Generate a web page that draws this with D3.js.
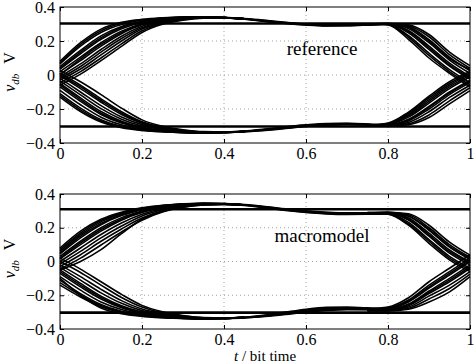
<!DOCTYPE html>
<head>
    <meta charset="utf-8" />
    <script src="https://d3js.org/d3.v7.min.js"></script>
    <style>
        body { margin: 0; background: #fff; }
        text { font-family: "Liberation Serif", "DejaVu Serif", serif; fill: #000; }
        .grid line { stroke: #8a8a8a; stroke-width: 0.8; stroke-dasharray: 1,3; }
        .trace { fill: none; stroke: #000; stroke-width: 1.6; }
        .axis path { display: none; }
        .axis line { stroke: #000; stroke-width: 1; }
        .axis text { font-size: 16px; }
    </style>
    <title>eye diagrams</title>
</head>

<body>
<script>
// time grids (bit time) for the different pieces of the traces
var tHead = [0, 0.05, 0.1, 0.15, 0.2, 0.25, 0.3, 0.35, 0.4, 0.45];
var tBody = [0.4, 0.45, 0.5, 0.55, 0.6, 0.65, 0.7, 0.75, 0.8];
var tTail = [0.75, 0.8, 0.85, 0.9, 0.95, 1.0];
var xTicks = [0, 0.2, 0.4, 0.6, 0.8, 1];
var yTicks = [-0.4, -0.2, 0, 0.2, 0.4];

// ---- reference ----
var refHighLevels = [0.305, 0.301];
var refLowLevels = [-0.305, -0.301];
var refRiseHeads = [
    [0.08, 0.19, 0.27, 0.31, 0.327, 0.336, 0.341, 0.342, 0.338, 0.33],
    [0.065, 0.17, 0.25, 0.297, 0.322, 0.334, 0.34, 0.342, 0.338, 0.33],
    [0.05, 0.145, 0.23, 0.285, 0.316, 0.331, 0.339, 0.341, 0.338, 0.33],
    [0.035, 0.125, 0.21, 0.272, 0.309, 0.328, 0.337, 0.341, 0.338, 0.33],
    [0.02, 0.105, 0.19, 0.258, 0.302, 0.325, 0.336, 0.34, 0.338, 0.33],
    [0.005, 0.085, 0.17, 0.243, 0.295, 0.321, 0.334, 0.34, 0.337, 0.33],
    [-0.01, 0.065, 0.15, 0.228, 0.287, 0.317, 0.332, 0.339, 0.337, 0.33],
    [-0.02, 0.05, 0.135, 0.215, 0.278, 0.313, 0.33, 0.338, 0.337, 0.33],
    [-0.03, 0.035, 0.118, 0.2, 0.27, 0.308, 0.328, 0.337, 0.336, 0.33],
    [-0.045, 0.02, 0.1, 0.183, 0.26, 0.303, 0.325, 0.336, 0.336, 0.33],
    [-0.06, 0.005, 0.085, 0.168, 0.25, 0.298, 0.322, 0.334, 0.335, 0.33],
    [0.0, 0.095, 0.18, 0.25, 0.298, 0.323, 0.335, 0.34, 0.337, 0.33],
    [0.04, 0.135, 0.22, 0.28, 0.313, 0.33, 0.338, 0.341, 0.338, 0.33],
    [0.07, 0.18, 0.26, 0.304, 0.325, 0.335, 0.341, 0.343, 0.339, 0.331]
];
var refFallHeads = [
    [-0.13, -0.215, -0.277, -0.31, -0.326, -0.334, -0.339, -0.341, -0.338, -0.332],
    [-0.11, -0.195, -0.263, -0.302, -0.322, -0.332, -0.338, -0.341, -0.338, -0.332],
    [-0.09, -0.175, -0.248, -0.293, -0.318, -0.33, -0.337, -0.34, -0.338, -0.332],
    [-0.07, -0.155, -0.232, -0.283, -0.313, -0.327, -0.335, -0.34, -0.338, -0.332],
    [-0.05, -0.135, -0.215, -0.272, -0.307, -0.324, -0.334, -0.339, -0.337, -0.332],
    [-0.035, -0.117, -0.198, -0.26, -0.3, -0.32, -0.332, -0.338, -0.337, -0.332],
    [-0.02, -0.1, -0.18, -0.247, -0.292, -0.316, -0.33, -0.337, -0.337, -0.332],
    [-0.005, -0.08, -0.16, -0.232, -0.284, -0.312, -0.328, -0.336, -0.336, -0.332],
    [0.01, -0.06, -0.14, -0.216, -0.275, -0.307, -0.325, -0.335, -0.336, -0.332],
    [0.025, -0.04, -0.115, -0.195, -0.264, -0.302, -0.322, -0.333, -0.335, -0.331],
    [-0.06, -0.145, -0.225, -0.278, -0.31, -0.326, -0.335, -0.34, -0.338, -0.332],
    [0.0, -0.07, -0.15, -0.224, -0.28, -0.31, -0.327, -0.336, -0.336, -0.332],
    [-0.12, -0.205, -0.27, -0.306, -0.324, -0.333, -0.339, -0.342, -0.339, -0.333]
];
var refHighBodies = [
    [0.338, 0.33, 0.318, 0.306, 0.297, 0.292, 0.292, 0.295, 0.30],
    [0.338, 0.332, 0.322, 0.31, 0.30, 0.295, 0.295, 0.297, 0.301],
    [0.336, 0.328, 0.315, 0.303, 0.294, 0.289, 0.29, 0.294, 0.299],
    [0.337, 0.331, 0.32, 0.308, 0.299, 0.294, 0.293, 0.296, 0.30],
    [0.336, 0.329, 0.316, 0.304, 0.295, 0.29, 0.291, 0.295, 0.30]
];
var refLowBodies = [
    [-0.338, -0.332, -0.322, -0.31, -0.298, -0.29, -0.288, -0.291, -0.297],
    [-0.338, -0.334, -0.326, -0.315, -0.303, -0.295, -0.292, -0.294, -0.298],
    [-0.336, -0.33, -0.318, -0.305, -0.293, -0.285, -0.284, -0.288, -0.295],
    [-0.337, -0.333, -0.324, -0.312, -0.3, -0.292, -0.29, -0.292, -0.297],
    [-0.336, -0.331, -0.32, -0.307, -0.295, -0.287, -0.286, -0.29, -0.296]
];
var refFallTails = [
    [0.30, 0.295, 0.21, 0.10, 0.01, -0.07],
    [0.30, 0.298, 0.232, 0.128, 0.032, -0.045],
    [0.30, 0.30, 0.248, 0.15, 0.052, -0.025],
    [0.30, 0.30, 0.262, 0.17, 0.07, -0.008],
    [0.30, 0.301, 0.274, 0.19, 0.088, 0.01],
    [0.30, 0.302, 0.284, 0.208, 0.105, 0.025],
    [0.30, 0.302, 0.29, 0.225, 0.12, 0.04],
    [0.30, 0.302, 0.295, 0.238, 0.135, 0.055],
    [0.30, 0.30, 0.28, 0.2, 0.097, 0.032],
    [0.30, 0.299, 0.255, 0.16, 0.06, -0.015],
    [0.30, 0.297, 0.222, 0.115, 0.02, -0.058]
];
var refRiseTails = [
    [-0.295, -0.283, -0.218, -0.125, -0.04, 0.02],
    [-0.296, -0.288, -0.233, -0.145, -0.06, 0.005],
    [-0.297, -0.291, -0.248, -0.165, -0.08, -0.012],
    [-0.298, -0.294, -0.26, -0.185, -0.1, -0.03],
    [-0.299, -0.296, -0.27, -0.2, -0.115, -0.045],
    [-0.3, -0.298, -0.279, -0.216, -0.132, -0.06],
    [-0.3, -0.299, -0.287, -0.235, -0.152, -0.075],
    [-0.3, -0.3, -0.292, -0.25, -0.17, -0.092],
    [-0.298, -0.295, -0.265, -0.19, -0.106, -0.036],
    [-0.296, -0.29, -0.24, -0.155, -0.07, -0.002],
    [-0.295, -0.285, -0.225, -0.135, -0.05, 0.012]
];

// ---- macromodel ----
var macHighLevels = [0.313, 0.307];
var macLowLevels = [-0.306, -0.300];
var macRiseHeads = [
    [0.08, 0.18, 0.25, 0.292, 0.318, 0.333, 0.342, 0.345, 0.343, 0.335],
    [0.06, 0.16, 0.235, 0.283, 0.313, 0.33, 0.34, 0.344, 0.342, 0.335],
    [0.045, 0.14, 0.218, 0.272, 0.306, 0.326, 0.338, 0.343, 0.342, 0.335],
    [0.03, 0.12, 0.2, 0.26, 0.298, 0.322, 0.336, 0.342, 0.341, 0.335],
    [0.015, 0.1, 0.18, 0.245, 0.29, 0.318, 0.333, 0.341, 0.341, 0.335],
    [0.0, 0.08, 0.16, 0.228, 0.28, 0.313, 0.331, 0.34, 0.34, 0.335],
    [-0.015, 0.06, 0.14, 0.21, 0.27, 0.307, 0.328, 0.339, 0.34, 0.334],
    [-0.03, 0.04, 0.12, 0.193, 0.258, 0.3, 0.325, 0.337, 0.339, 0.334],
    [-0.045, 0.02, 0.098, 0.175, 0.245, 0.293, 0.321, 0.335, 0.338, 0.334],
    [-0.05, 0.0, 0.07, 0.165, 0.25, 0.297, 0.322, 0.335, 0.338, 0.334],
    [0.07, 0.17, 0.243, 0.288, 0.316, 0.332, 0.341, 0.345, 0.343, 0.335],
    [0.02, 0.11, 0.19, 0.252, 0.294, 0.32, 0.335, 0.342, 0.341, 0.335],
    [0.05, 0.15, 0.226, 0.277, 0.31, 0.328, 0.339, 0.344, 0.342, 0.335]
];
var macFallHeads = [
    [-0.14, -0.21, -0.268, -0.303, -0.322, -0.332, -0.337, -0.34, -0.338, -0.332],
    [-0.11, -0.19, -0.255, -0.295, -0.318, -0.33, -0.336, -0.339, -0.338, -0.332],
    [-0.09, -0.17, -0.24, -0.285, -0.312, -0.327, -0.335, -0.339, -0.338, -0.332],
    [-0.07, -0.15, -0.222, -0.274, -0.306, -0.324, -0.333, -0.338, -0.337, -0.332],
    [-0.05, -0.13, -0.205, -0.262, -0.299, -0.32, -0.331, -0.337, -0.337, -0.332],
    [-0.035, -0.11, -0.186, -0.248, -0.291, -0.315, -0.329, -0.336, -0.336, -0.331],
    [-0.02, -0.09, -0.165, -0.232, -0.282, -0.31, -0.326, -0.335, -0.336, -0.331],
    [0.0, -0.065, -0.14, -0.213, -0.27, -0.304, -0.323, -0.333, -0.335, -0.331],
    [0.02, -0.045, -0.12, -0.195, -0.26, -0.298, -0.32, -0.332, -0.334, -0.33],
    [-0.1, -0.2, -0.275, -0.31, -0.325, -0.333, -0.338, -0.34, -0.338, -0.332],
    [-0.06, -0.14, -0.213, -0.268, -0.302, -0.322, -0.332, -0.337, -0.337, -0.332],
    [-0.125, -0.2, -0.262, -0.3, -0.32, -0.331, -0.337, -0.34, -0.338, -0.332]
];
var macHighBodies = [
    [0.342, 0.335, 0.322, 0.307, 0.295, 0.287, 0.284, 0.284, 0.287],
    [0.343, 0.337, 0.326, 0.312, 0.30, 0.292, 0.288, 0.288, 0.29],
    [0.34, 0.332, 0.318, 0.302, 0.29, 0.282, 0.279, 0.28, 0.284],
    [0.342, 0.336, 0.324, 0.31, 0.298, 0.29, 0.286, 0.286, 0.289],
    [0.341, 0.333, 0.32, 0.305, 0.292, 0.284, 0.281, 0.282, 0.286]
];
var macLowBodies = [
    [-0.337, -0.332, -0.322, -0.308, -0.294, -0.284, -0.28, -0.282, -0.288],
    [-0.337, -0.334, -0.326, -0.314, -0.30, -0.29, -0.285, -0.286, -0.291],
    [-0.336, -0.33, -0.318, -0.30, -0.283, -0.272, -0.27, -0.275, -0.283],
    [-0.337, -0.333, -0.324, -0.311, -0.297, -0.287, -0.283, -0.284, -0.289],
    [-0.336, -0.331, -0.32, -0.304, -0.288, -0.278, -0.275, -0.279, -0.286]
];
var macFallTails = [
    [0.285, 0.28, 0.215, 0.108, 0.01, -0.06],
    [0.285, 0.283, 0.232, 0.13, 0.03, -0.04],
    [0.286, 0.285, 0.245, 0.15, 0.05, -0.02],
    [0.287, 0.287, 0.258, 0.168, 0.068, -0.003],
    [0.288, 0.288, 0.268, 0.185, 0.085, 0.012],
    [0.288, 0.29, 0.277, 0.2, 0.10, 0.025],
    [0.29, 0.292, 0.283, 0.215, 0.115, 0.038],
    [0.29, 0.292, 0.27, 0.19, 0.09, 0.02],
    [0.287, 0.286, 0.25, 0.158, 0.058, -0.01],
    [0.286, 0.282, 0.222, 0.12, 0.02, -0.05]
];
var macRiseTails = [
    [-0.28, -0.27, -0.215, -0.12, -0.04, 0.04],
    [-0.282, -0.275, -0.228, -0.14, -0.06, 0.02],
    [-0.284, -0.279, -0.24, -0.158, -0.08, 0.0],
    [-0.286, -0.283, -0.252, -0.175, -0.1, -0.02],
    [-0.288, -0.286, -0.262, -0.19, -0.12, -0.04],
    [-0.29, -0.289, -0.27, -0.205, -0.14, -0.06],
    [-0.292, -0.291, -0.277, -0.222, -0.16, -0.075],
    [-0.293, -0.293, -0.283, -0.24, -0.18, -0.09],
    [-0.287, -0.284, -0.256, -0.182, -0.11, -0.03],
    [-0.283, -0.277, -0.234, -0.15, -0.07, 0.01]
];

var width = 474, height = 364;
var svg = d3.select("body").append("svg")
    .attr("width", width).attr("height", height);
svg.append("rect").attr("width", width).attr("height", height).attr("fill", "#fff");

var x = d3.scaleLinear().domain([0, 1]).range([60, 470]);

function drawPanel(top, bottom, label, labelY, levelsHi, levelsLo, pieces) {
    var y = d3.scaleLinear().domain([-0.4, 0.4]).range([bottom, top]);
    var g = svg.append("g");

    // dotted grid
    var grid = g.append("g").attr("class", "grid");
    grid.selectAll(".gx").data(xTicks.slice(1, -1)).join("line")
        .attr("x1", d => x(d)).attr("x2", d => x(d))
        .attr("y1", top).attr("y2", bottom);
    grid.selectAll(".gy").data(yTicks.slice(1, -1)).join("line")
        .attr("x1", x(0)).attr("x2", x(1))
        .attr("y1", d => y(d)).attr("y2", d => y(d));

    g.append("text").attr("x", 322).attr("y", labelY)
        .attr("text-anchor", "middle").style("font-size", "19px")
        .text(label);

    var line = d3.line().curve(d3.curveMonotoneX)
        .x(d => x(d[0])).y(d => y(d[1]));
    var tr = g.append("g");
    pieces.forEach(function (p) {
        tr.selectAll(null).data(p.rows).join("path")
            .attr("class", "trace")
            .attr("d", r => line(r.map((v, i) => [p.t[i], v])));
    });
    tr.selectAll(null).data(levelsHi.concat(levelsLo)).join("line")
        .attr("class", "trace")
        .attr("x1", x(0)).attr("x2", x(1))
        .attr("y1", d => y(d)).attr("y2", d => y(d));

    // axes, ticks inside on all four sides
    var fmt = d3.format("");
    g.append("g").attr("class", "axis").attr("transform", "translate(0," + bottom + ")")
        .call(d3.axisBottom(x).tickValues(xTicks).tickFormat(fmt)
            .tickSizeInner(-4).tickSizeOuter(0).tickPadding(5));
    g.append("g").attr("class", "axis").attr("transform", "translate(0," + top + ")")
        .call(d3.axisTop(x).tickValues(xTicks).tickFormat("")
            .tickSizeInner(-4).tickSizeOuter(0));
    g.append("g").attr("class", "axis").attr("transform", "translate(" + x(0) + ",0)")
        .call(d3.axisLeft(y).tickValues(yTicks).tickFormat(fmt)
            .tickSizeInner(-4).tickSizeOuter(0).tickPadding(5));
    g.append("g").attr("class", "axis").attr("transform", "translate(" + x(1) + ",0)")
        .call(d3.axisRight(y).tickValues(yTicks).tickFormat("")
            .tickSizeInner(-4).tickSizeOuter(0));
    g.append("rect").attr("x", x(0)).attr("y", top)
        .attr("width", x(1) - x(0)).attr("height", bottom - top)
        .attr("fill", "none").attr("stroke", "#000").attr("stroke-width", 1);

    // y label: v_db  V
    var yl = g.append("text")
        .attr("transform", "translate(15," + ((top + bottom) / 2 - 3) + ") rotate(-90)")
        .attr("text-anchor", "middle").style("font-size", "16px");
    yl.append("tspan").style("font-style", "italic").text("v");
    yl.append("tspan").style("font-style", "italic").style("font-size", "11px")
        .attr("dy", "4").text("db");
    yl.append("tspan").attr("dy", "-4").attr("dx", "10").text("V");
}

drawPanel(7, 143, "reference", 55, refHighLevels, refLowLevels, [
    {t: tHead, rows: refRiseHeads}, {t: tHead, rows: refFallHeads},
    {t: tBody, rows: refHighBodies}, {t: tBody, rows: refLowBodies},
    {t: tTail, rows: refFallTails}, {t: tTail, rows: refRiseTails}
]);
drawPanel(194, 329, "macromodel", 242, macHighLevels, macLowLevels, [
    {t: tHead, rows: macRiseHeads}, {t: tHead, rows: macFallHeads},
    {t: tBody, rows: macHighBodies}, {t: tBody, rows: macLowBodies},
    {t: tTail, rows: macFallTails}, {t: tTail, rows: macRiseTails}
]);

// x label
var xl = svg.append("text").attr("x", 265).attr("y", 361)
    .attr("text-anchor", "middle").style("font-size", "15px");
xl.append("tspan").style("font-style", "italic").text("t");
xl.append("tspan").text(" / bit time");
</script>
</body>
